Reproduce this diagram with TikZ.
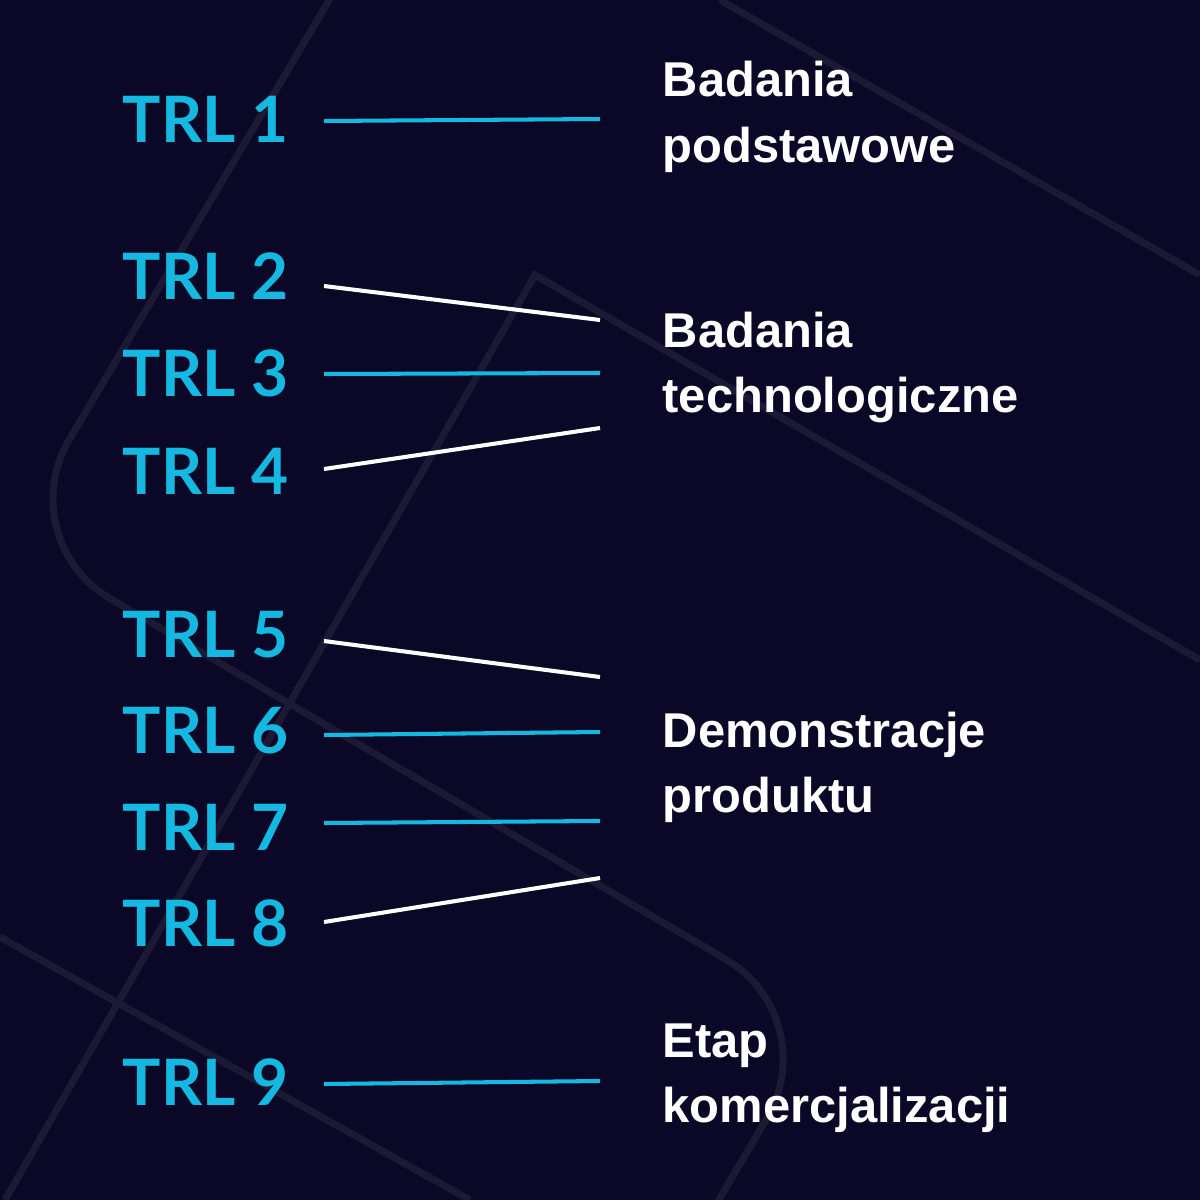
\documentclass[tikz,border=0pt]{standalone}
\usepackage{fontspec}
\setmainfont{Lato}
\newfontfamily\stagefont{Liberation Sans}
\definecolor{bgnavy}{HTML}{0A0826}
\definecolor{trlcyan}{HTML}{14B8E0}
\definecolor{faintline}{HTML}{1B1933}
\tikzset{
  trl/.style={anchor=base west, inner sep=0pt, text=trlcyan, font=\fontsize{18.2}{20}\selectfont\bfseries},
  stage/.style={anchor=base west, inner sep=0pt, text=white, font=\stagefont\fontsize{13.9}{16}\selectfont\bfseries},
  link/.style={line width=1.15pt},
  ghost/.style={draw=faintline, line width=2pt}
}
\begin{document}
\begin{tikzpicture}[x=0.01cm,y=-0.01cm]
            \fill[bgnavy] (0,0) rectangle (1200,1200);
            \useasboundingbox (0,0) rectangle (1200,1200);
        % background shapes
            \begin{scope}
            \clip (0,0) rectangle (1200,1200);
            \draw[ghost, rounded corners=1.16cm] (428,-167) -- (10,540) -- (826,1018) -- (648,1320);
            \draw[ghost] (720,0) -- (1200,275);
            \draw[ghost, line join=miter] (1200,660) -- (535,275) -- (5,1200);
            \draw[ghost] (0,937) -- (470,1200);
            \end{scope}
        % TRL levels
            \node[trl] (t1) at (122,142) {TRL 1};
            \node[trl] (t2) at (122,299) {TRL 2};
            \node[trl] (t3) at (122,396) {TRL 3};
            \node[trl] (t4) at (122,494) {TRL 4};
            \node[trl] (t5) at (122,657) {TRL 5};
            \node[trl] (t6) at (122,753) {TRL 6};
            \node[trl] (t7) at (122,850) {TRL 7};
            \node[trl] (t8) at (122,946) {TRL 8};
            \node[trl] (t9) at (122,1105) {TRL 9};
        % stages
            \node[stage] (bad1) at (662,97) {Badania};
            \node[stage] (podst) at (662,162) {podstawowe};
            \node[stage] (bad2) at (662,347) {Badania};
            \node[stage] (techn) at (662,412) {technologiczne};
            \node[stage] (demo) at (662,747) {Demonstracje};
            \node[stage] (prod) at (662,812) {produktu};
            \node[stage] (etap) at (662,1057) {Etap};
            \node[stage] (komer) at (662,1122) {komercjalizacji};
        % line ends
            \coordinate (s1) at (324,121);  \coordinate (e1) at (600,119);
            \coordinate (s2) at (324,286);  \coordinate (e2) at (600,320);
            \coordinate (s3) at (324,374);  \coordinate (e3) at (600,373);
            \coordinate (s4) at (324,469);  \coordinate (e4) at (600,428);
            \coordinate (s5) at (324,641);  \coordinate (e5) at (600,677);
            \coordinate (s6) at (324,735);  \coordinate (e6) at (600,732);
            \coordinate (s7) at (324,823);  \coordinate (e7) at (600,821);
            \coordinate (s8) at (324,922);  \coordinate (e8) at (600,878);
            \coordinate (s9) at (324,1084); \coordinate (e9) at (600,1081);
        %
            \draw[link, trlcyan] (s1) -- (e1);
            \draw[link, white] (s2) -- (e2);
            \draw[link, trlcyan] (s3) -- (e3);
            \draw[link, white] (s4) -- (e4);
            \draw[link, white] (s5) -- (e5);
            \draw[link, trlcyan] (s6) -- (e6);
            \draw[link, trlcyan] (s7) -- (e7);
            \draw[link, white] (s8) -- (e8);
            \draw[link, trlcyan] (s9) -- (e9);
        \end{tikzpicture}
\end{document}
